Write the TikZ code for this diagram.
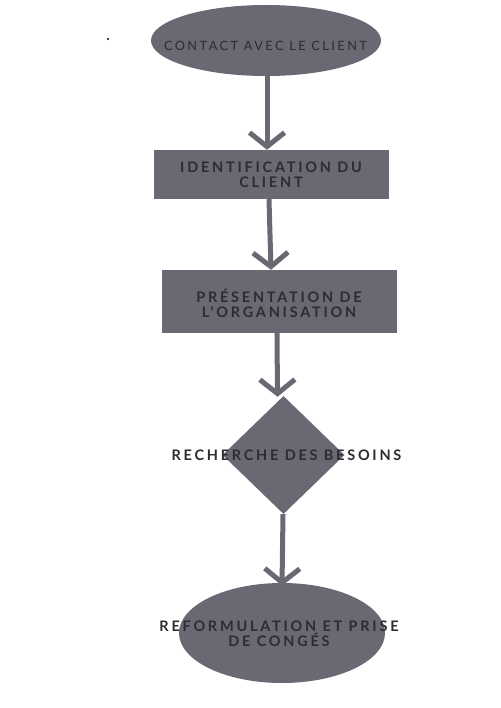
\documentclass[tikz,border=0pt]{standalone}
\usepackage{fontspec}
\usetikzlibrary{shapes.geometric,arrows.meta}
\newfontfamily\latoreg[LetterSpace=19]{Lato}
\newfontfamily\latobold[LetterSpace=19,BoldFont={Lato Bold}]{Lato Bold}
\definecolor{shapegrey}{HTML}{686973}
\definecolor{textgrey}{HTML}{2C2C31}
\tikzset{
  shp/.style={fill=shapegrey, draw=none, inner sep=0pt},
  lbl/.style={text=textgrey, align=center, inner sep=0pt, font=\latobold\fontsize{14.5}{15}\selectfont},
  conn/.style={draw=shapegrey, line width=5pt, -{Straight Barb[length=14pt,width=35pt]}}
}
\begin{document}
\begin{tikzpicture}[x=1pt,y=-1pt]
\useasboundingbox (0,0) rectangle (500,708);
\fill[white] (0,0) rectangle (500,708);
% shapes
\node[shp, ellipse, minimum width=230pt, minimum height=71pt] (e1) at (266,40.5) {};
\node[shp, rectangle, minimum width=235pt, minimum height=49pt] (r1) at (271.5,174.5) {};
\node[shp, rectangle, minimum width=235pt, minimum height=63pt] (r2) at (279.5,301.5) {};
\node[shp, diamond, minimum width=122pt, minimum height=118pt] (d1) at (283.5,455) {};
\node[shp, ellipse, minimum width=206pt, minimum height=100pt] (e2) at (282,633) {};
% dot
\node[circle, fill=black, inner sep=0pt, minimum size=2.2pt] (dot) at (108,39) {};
% labels
\node[lbl, font=\latoreg\fontsize{12.8}{15}\selectfont] (t1) at (265.5,46) {CONTACT AVEC LE CLIENT};
\node[lbl] (t2) at (271,174.5) {IDENTIFICATION DU\\CLIENT};
\node[lbl] (t3) at (279,303.5) {PRÉSENTATION DE\\L'ORGANISATION};
\node[lbl] (t4) at (286.5,455) {RECHERCHE DES BESOINS};
\node[lbl] (t5) at (279,633.5) {REFORMULATION ET PRISE\\DE CONGÉS};
% connectors
\draw[conn] ([xshift=1pt]e1.south) -- ([xshift=-4.5pt]r1.north);
\draw[conn] ([xshift=-2.5pt]r1.south) -- ([xshift=-8.5pt]r2.north);
\draw[conn] ([xshift=-2.5pt]r2.south) -- ([xshift=-6pt,yshift=-1pt]d1.north);
\draw[conn] ([xshift=-0.5pt]d1.south) -- ([yshift=-3pt]e2.north);
\end{tikzpicture}
\end{document}
